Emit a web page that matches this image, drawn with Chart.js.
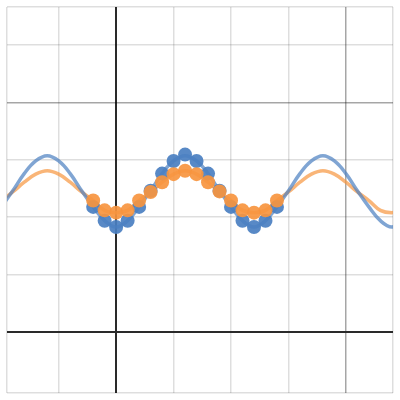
<!DOCTYPE html>
<html><head><meta charset="utf-8">
<script src="https://cdn.jsdelivr.net/npm/chart.js@4"></script>
<style>html,body{margin:0;padding:0;background:#fff;}</style>
</head><body>
<canvas id="c" width="400" height="400"></canvas>
<script>
const curveX = [-2.0,-1.8,-1.6,-1.4,-1.2,-1.0,-0.8,-0.6,-0.4,-0.2,0,0.2,0.4,0.6,0.8,1.0,1.2,1.4,1.6,1.8,2.0,2.2,2.4,2.6,2.8,3.0,3.2,3.4,3.6,3.8,4.0,4.2,4.4,4.6,4.8,5.0];
const blueCurve = [2.18,2.46,2.76,2.98,3.07,2.98,2.76,2.46,2.18,1.94,1.83,1.94,2.18,2.46,2.76,2.98,3.07,2.98,2.76,2.46,2.18,1.94,1.83,1.94,2.18,2.46,2.76,2.98,3.07,2.98,2.76,2.46,2.18,1.94,1.83,1.94];
const orangeCurve = [2.29,2.44,2.61,2.75,2.81,2.75,2.61,2.44,2.29,2.12,2.08,2.12,2.29,2.44,2.61,2.75,2.81,2.75,2.61,2.44,2.29,2.12,2.08,2.12,2.29,2.44,2.61,2.75,2.81,2.75,2.61,2.44,2.29,2.12,2.08,2.12];
const dotX = [-0.4,-0.2,0,0.2,0.4,0.6,0.8,1.0,1.2,1.4,1.6,1.8,2.0,2.2,2.4,2.6,2.8];
const blueDots = [2.18,1.94,1.83,1.94,2.18,2.46,2.76,2.98,3.09,2.98,2.76,2.46,2.18,1.94,1.83,1.94,2.18];
const orangeDots = [2.29,2.12,2.08,2.12,2.29,2.44,2.61,2.75,2.81,2.75,2.61,2.45,2.29,2.12,2.08,2.12,2.29];

const pts = (xs, ys) => xs.map((x, i) => ({x: x, y: ys[i]}));
function gridColor(ctx){ const v = ctx.tick && ctx.tick.value; if (v === 0) return '#2a2a2a'; if (v === 4) return 'rgba(0,0,0,0.35)'; return 'rgba(0,0,0,0.13)'; }
function gridWidth(ctx){ const v = ctx.tick && ctx.tick.value; return v === 0 ? 2 : 1.5; }
const gridOpts = {color: gridColor, lineWidth: gridWidth, drawTicks: false, tickLength: 0};

new Chart(document.getElementById('c'), {
  type: 'scatter',
  data: {datasets: [
    {data: pts(curveX, blueCurve), showLine: true, pointRadius: 0, borderColor: 'rgba(74,127,193,0.7)', borderWidth: 3.5, tension: 0.4, order: 3},
    {data: pts(curveX, orangeCurve), showLine: true, pointRadius: 0, borderColor: 'rgba(247,149,63,0.7)', borderWidth: 3.5, tension: 0.4, order: 4},
    {data: pts(dotX, blueDots), pointRadius: 7, backgroundColor: 'rgba(74,127,193,0.92)', borderWidth: 0, order: 2},
    {data: pts(dotX, orangeDots), pointRadius: 7, backgroundColor: 'rgba(247,149,63,0.92)', borderWidth: 0, order: 1}
  ]},
  options: {
    responsive: false, animation: false,
    layout: {padding: 0},
    plugins: {legend: {display: false}, tooltip: {enabled: false}},
    scales: {
      x: {type: 'linear', min: -1.9, max: 4.82, ticks: {display: false, stepSize: 1, padding: 0}, grid: gridOpts, border: {display: false},
          afterFit: s => { s.height = 0; s.paddingLeft = 0; s.paddingRight = 0; }},
      y: {type: 'linear', min: -1.06, max: 5.66, ticks: {display: false, stepSize: 1, padding: 0}, grid: gridOpts, border: {display: false},
          afterFit: s => { s.width = 0; s.paddingTop = 0; s.paddingBottom = 0; }}
    }
  }
});
</script>
</body></html>
